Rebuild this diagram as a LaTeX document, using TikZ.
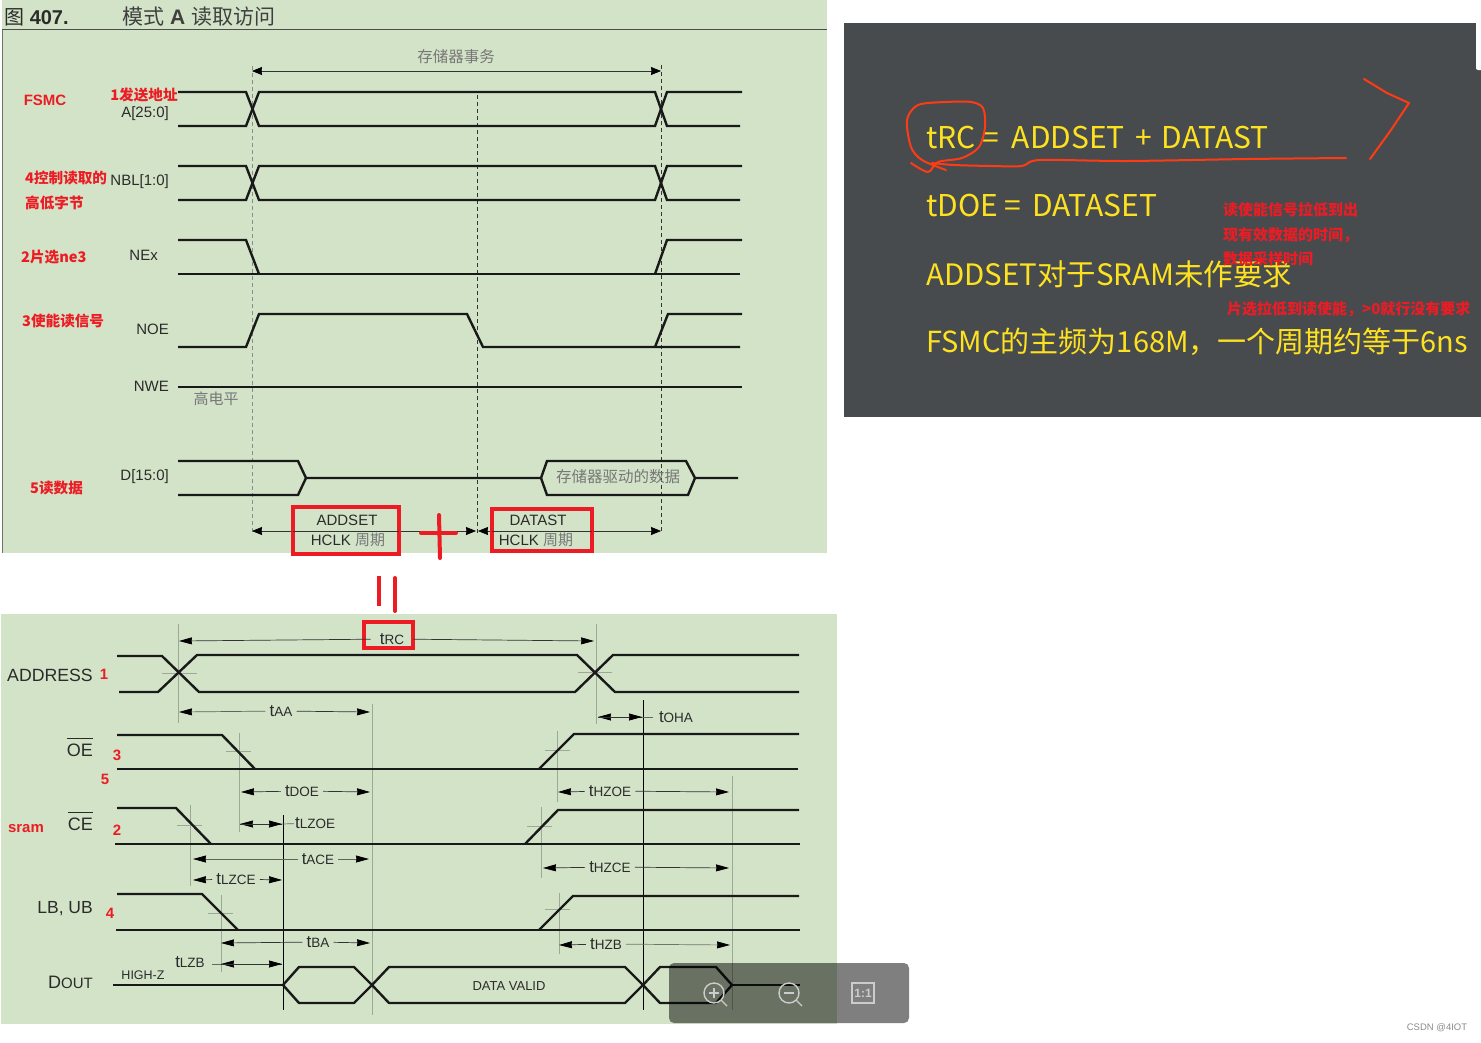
\documentclass[tikz,border=0pt]{standalone}
\usepackage{fontspec}
\setmainfont{Liberation Sans}
\newfontfamily\cjk{Noto Sans CJK SC}
\usetikzlibrary{arrows.meta}
\definecolor{panelgreen}{HTML}{D3E3C8}
\definecolor{paneldark}{HTML}{484B4E}
\definecolor{inkred}{HTML}{ED1C24}
\definecolor{penred}{HTML}{FF3B14}
\definecolor{inkyellow}{HTML}{FFE21F}
\definecolor{inktext}{HTML}{2B2B2B}
\definecolor{inkgrey}{HTML}{777777}
\definecolor{gridgrey}{HTML}{9DA997}
\newcommand{\fsz}[1]{\fontsize{#1pt}{#1pt}\selectfont}
\newcommand{\tm}[1]{{\fsz{17}t}{\fsz{13.5}#1}}
\newcommand{\ovl}[1]{$\overline{\mbox{\rule{0pt}{16pt}#1}}$}

\begin{document}
\begin{tikzpicture}[x=1pt, y=-1pt, every node/.style={inner sep=1pt, text=inktext},
    wave/.style={line width=2.4pt, black!90},
    thinwave/.style={line width=1.9pt, black!90},
    gridl/.style={line width=0.9pt, gridgrey},
    blk/.style={line width=0.9pt, black},
    vdash/.style={line width=0.9pt, black!80, dash pattern=on 4pt off 3pt},
    dimtop/.style={line width=0.7pt, black!80, {Stealth[length=10pt,width=8pt,inset=0.5pt,black]}-{Stealth[length=10pt,width=8pt,inset=0.5pt,black]}},
    dimbot/.style={line width=0.7pt, black!80, -{Stealth[length=13pt,width=7pt,inset=0.5pt,black]}},
    lab/.style={font=\fsz{15}},
    dimlab/.style={font=\fsz{14}, inner sep=4pt},
    redlab/.style={font=\cjk\bfseries\fsz{14.6}, text=inkred},
    rednum/.style={font=\bfseries\fsz{15}, text=inkred},
    redbox/.style={draw=inkred, line width=4pt},
    redbar/.style={inkred, line width=4pt},
    yellowlab/.style={font=\cjk\fsz{30}, text=inkyellow, anchor=west},
    notelab/.style={font=\cjk\bfseries\fsz{15}, text=inkred, anchor=west},
    pen/.style={penred, line width=2pt, line cap=round, line join=round},
    toolicon/.style={white!80!black, line width=1.4pt}]

    \useasboundingbox (0,0) rectangle (1481,1042);
    \fill[white] (0,0) rectangle (1481,1042);

    % panels
    \fill[panelgreen] (2,0) rectangle (827,553);
    \fill[panelgreen] (1,614) rectangle (837,1024);
    \fill[paneldark] (844,23) rectangle (1481,417);
    \fill[white, rounded corners=2pt] (1476,20) rectangle (1484,70);
    \draw[line width=1pt, black!70] (2,29.5) -- (827,29.5);
    \draw[line width=1pt, gridgrey!70!black] (2,29.5) -- (2,553);

    % title
    \node[anchor=west, font=\fsz{20}] (fig) at (3,17) {{\cjk 图} \textbf{407.}};
    \node[anchor=west, font=\fsz{21}, text=black!75] (mode) at (121,17) {{\cjk 模式} \textbf{A} {\cjk 读取访问}};

    % upper chart, vertical guides
    \coordinate (u1t) at (252,66);
    \coordinate (u1b) at (252,535);
    \coordinate (u2t) at (477,95);
    \coordinate (u2b) at (477,535);
    \coordinate (u3t) at (661,65);
    \coordinate (u3b) at (661,532);
    \draw[vdash, black!45] (u1t) -- (u1b);
    \draw[vdash] (u2t) -- (u2b);
    \draw[vdash] (u3t) -- (u3b);

    % upper chart, waves
    \draw[wave] (178,92) -- (246,92) -- (259,126) -- (655,126) -- (667,92) -- (742,92);
    \draw[wave] (178,126) -- (246,126) -- (259,92) -- (655,92) -- (667,126) -- (740,126);
    \draw[wave] (178,166) -- (246,166) -- (259,200) -- (655,200) -- (667,166) -- (742,166);
    \draw[wave] (178,200) -- (246,200) -- (259,166) -- (655,166) -- (667,200) -- (740,200);
    \draw[wave] (178,240) -- (246,240) -- (259,274);
    \draw[wave] (178,274) -- (740,274);
    \draw[wave] (655,274) -- (667,240) -- (742,240);
    \draw[wave] (178,347) -- (246,347) -- (259,314) -- (467,314) -- (483,347) -- (740,347);
    \draw[wave] (655,347) -- (668,314) -- (742,314);
    \draw[wave] (178,387) -- (742,387);
    \draw[wave] (178,461) -- (298,461) -- (306,478) -- (298,495) -- (178,495);
    \draw[wave] (306,478) -- (541,478) -- (547,461) -- (686,461) -- (695,478) -- (738,478);
    \draw[wave] (541,478) -- (547,495) -- (688,495) -- (695,478);

    % upper chart, spans
    \coordinate (topl) at (252,71);
    \coordinate (topr) at (661,71);
    \coordinate (botl) at (252,531);
    \coordinate (botm) at (476,531);
    \coordinate (botn) at (478,531);
    \coordinate (botr) at (661,531);
    \draw[dimtop] (topl) -- (topr);
    \draw[dimtop] (botl) -- (botm);
    \draw[dimtop] (botn) -- (botr);

    % upper chart, labels
    \node[font=\cjk\fsz{15.5}, text=inkgrey] (memtx) at (456,57) {存储器事务};
    \node[lab, anchor=east] (addrA) at (170,114) {A[25:0]};
    \node[lab, anchor=east] (nbl) at (170,182) {NBL[1:0]};
    \node[lab, anchor=east] (nex) at (159,255) {NEx};
    \node[lab, anchor=east] (noe) at (170,329) {NOE};
    \node[lab, anchor=east] (nwe) at (170,386) {NWE};
    \node[font=\cjk\fsz{15}, text=inkgrey] (highlvl) at (216,399) {高电平};
    \node[lab, anchor=east] (dbus) at (170,477) {D[15:0]};
    \node[font=\cjk\fsz{15.5}, text=inkgrey] (drvdata) at (618,477) {存储器驱动的数据};

    \node[redlab, font=\bfseries\fsz{15}] (fsmc) at (45,100) {FSMC};
    \node[redlab] (r1) at (144,95) {1发送地址};
    \node[redlab, anchor=west] (r4) at (24,178) {4控制读取的};
    \node[redlab, anchor=west] (r4b) at (24,203) {高低字节};
    \node[redlab, anchor=west] (r2) at (20,257) {2片选ne3};
    \node[redlab, anchor=west] (r3) at (21,321) {3使能读信号};
    \node[redlab, anchor=west] (r5) at (29,488) {5读数据};

    % sum of the two spans
    \draw[redbox, fill=panelgreen] (293,507) rectangle (399,554);
    \draw[redbox, fill=panelgreen] (492,509) rectangle (592,551);
    \draw[line width=0.7pt, black!80] (293,531) -- (399,531);
    \draw[line width=0.7pt, black!80] (492,531) -- (592,531);
    \node[lab] (addset) at (347,520) {ADDSET};
    \node[lab] (addclk) at (348,540) {HCLK {\cjk\color{inkgrey} 周期}};
    \node[lab] (datast) at (538,520) {DATAST};
    \node[lab] (datclk) at (536,540) {HCLK {\cjk\color{inkgrey} 周期}};
    \draw[redbar, line cap=round] (421,533) -- (456,533);
    \draw[redbar, line cap=round] (439,515) -- (440,558);
    \draw[redbar] (379,576) -- (379,606);
    \draw[redbar, line cap=round] (395,578) -- (395,611);

    % lower chart, guides
    \draw[gridl] (178,624) -- (178,723);
    \draw[gridl] (162,673) -- (197,673);
    \draw[gridl] (596,624) -- (596,724);
    \draw[gridl] (578,672) -- (612,672);
    \draw[gridl] (239,733) -- (239,832);
    \draw[gridl] (226,751) -- (251,751);
    \draw[gridl] (557,731) -- (557,802);
    \draw[gridl] (545,750) -- (570,750);
    \draw[gridl] (190,805) -- (190,886);
    \draw[gridl] (177,825) -- (202,825);
    \draw[gridl] (541,807) -- (541,878);
    \draw[gridl] (527,826) -- (552,826);
    \draw[gridl] (221,895) -- (221,972);
    \draw[gridl] (208,913) -- (233,913);
    \draw[gridl] (559,893) -- (559,954);
    \draw[gridl] (545,909) -- (570,909);
    \draw[gridl] (372,704) -- (372,1015);
    \draw[gridl] (732,776) -- (732,1010);
    \draw[blk] (283,815) -- (283,1010);
    \draw[blk] (643,700) -- (643,1010);

    % lower chart, waves
    \draw[wave] (117,656) -- (162,656) -- (199,692) -- (575,692) -- (613,655) -- (799,655);
    \draw[wave] (119,692) -- (158,692) -- (197,655) -- (577,655) -- (615,692) -- (799,692);
    \draw[wave] (117,735) -- (222,735) -- (255,769);
    \draw[wave] (117,769) -- (798,769);
    \draw[wave] (539,769) -- (574,734) -- (799,734);
    \draw[wave] (117,808) -- (176,808) -- (211,844);
    \draw[thinwave] (115,844) -- (800,844);
    \draw[wave] (525,844) -- (558,810) -- (799,810);
    \draw[wave] (117,894) -- (202,894) -- (238,930);
    \draw[thinwave] (116,930) -- (800,930);
    \draw[wave] (539,930) -- (573,896) -- (799,896);
    \draw[wave] (113,985) -- (283,985);
    \draw[wave] (283,985) -- (299,967) -- (354,967) -- (372,985) -- (354,1003) -- (299,1003) -- cycle;
    \draw[wave] (372,985) -- (389,967) -- (625,967) -- (643,985) -- (625,1003) -- (389,1003) -- cycle;
    \draw[wave] (643,985) -- (660,967) -- (716,967) -- (732,985) -- (716,1003) -- (660,1003) -- cycle;
    \draw[wave] (732,985) -- (800,985);

    % lower chart, spans
    \draw[redbox] (364,622) rectangle (413,648);
    \node[inner sep=9pt] (trc) at (392,639) {\tm{RC}};
    \coordinate (trcl) at (179,641);
    \coordinate (trcr) at (594,641);
    \draw[dimbot] (trc) -- (trcl);
    \draw[dimbot] (trc) -- (trcr);
    \node[dimlab] (taa) at (281,711) {\tm{AA}};
    \coordinate (taal) at (179,712);
    \coordinate (taar) at (370,712);
    \draw[dimbot, gridgrey!60!black] (taa) -- (taal);
    \draw[dimbot] (taa) -- (taar);
    \node[inner sep=1pt] (toha) at (676,717) {\tm{OHA}};
    \coordinate (tohal) at (598,717);
    \coordinate (tohar) at (642,717);
    \draw[dimbot] (tohar) -- (tohal);
    \draw[dimbot] (tohal) -- (tohar);
    \draw[line width=0.7pt, black!60] (tohar) -- (653,717);
    \node[dimlab] (tdoe) at (302,791) {\tm{DOE}};
    \coordinate (tdoel) at (241,792);
    \coordinate (tdoer) at (370,792);
    \draw[dimbot] (tdoe) -- (tdoel);
    \draw[dimbot] (tdoe) -- (tdoer);
    \node[dimlab] (thzoe) at (610,791) {\tm{HZOE}};
    \coordinate (thzoel) at (558,792);
    \coordinate (thzoer) at (729,792);
    \draw[dimbot] (thzoe) -- (thzoel);
    \draw[dimbot] (thzoe) -- (thzoer);
    \node[dimlab, anchor=west, inner sep=1pt] (tlzoe) at (294,823) {\tm{LZOE}};
    \coordinate (tlzoel) at (240,824);
    \coordinate (tlzoer) at (282,824);
    \draw[dimbot] (tlzoer) -- (tlzoel);
    \draw[dimbot] (tlzoel) -- (tlzoer);
    \draw[line width=0.7pt, black!60] (tlzoer) -- (tlzoe);
    \node[dimlab] (tace) at (318,859) {\tm{ACE}};
    \coordinate (tacel) at (193,859);
    \coordinate (tacer) at (369,859);
    \draw[dimbot, gridgrey!60!black] (tace) -- (tacel);
    \draw[dimbot, gridgrey!60!black] (tace) -- (tacer);
    \node[dimlab] (thzce) at (610,867) {\tm{HZCE}};
    \coordinate (thzcel) at (543,868);
    \coordinate (thzcer) at (729,868);
    \draw[dimbot] (thzce) -- (thzcel);
    \draw[dimbot] (thzce) -- (thzcer);
    \node[dimlab] (tlzce) at (236,879) {\tm{LZCE}};
    \coordinate (tlzcel) at (193,880);
    \coordinate (tlzcer) at (282,880);
    \draw[dimbot] (tlzce) -- (tlzcel);
    \draw[dimbot] (tlzce) -- (tlzcer);
    \node[dimlab] (tba) at (318,942) {\tm{BA}};
    \coordinate (tbal) at (221,943);
    \coordinate (tbar) at (370,943);
    \draw[dimbot] (tba) -- (tbal);
    \draw[dimbot] (tba) -- (tbar);
    \node[dimlab] (thzb) at (606,944) {\tm{HZB}};
    \coordinate (thzbl) at (559,945);
    \coordinate (thzbr) at (730,945);
    \draw[dimbot] (thzb) -- (thzbl);
    \draw[dimbot, gridgrey!70!black] (thzb) -- (thzbr);
    \node[dimlab, inner sep=1pt] (tlzb) at (190,962) {\tm{LZB}};
    \coordinate (tlzbl) at (221,964);
    \coordinate (tlzbr) at (282,964);
    \draw[dimbot] (tlzbr) -- (tlzbl);
    \draw[dimbot] (tlzbl) -- (tlzbr);
    \draw[line width=0.7pt, black!60] (212,964) -- (tlzbl);

    % lower chart, labels
    \node[font=\fsz{17.7}, anchor=west] (address) at (6,675) {ADDRESS};
    \node[font=\fsz{18}, anchor=base east] (oebar) at (94,756) {\ovl{OE}};
    \node[font=\fsz{18}, anchor=base east] (cebar) at (94,830) {\ovl{CE}};
    \node[font=\fsz{17.5}, anchor=east] (lbub) at (94,909) {LB, UB};
    \node[anchor=east] (dout) at (94,982) {{\fsz{18}D}{\fsz{15}OUT}};
    \node[font=\fsz{12.5}] (highz) at (143,975) {HIGH-Z};
    \node[font=\fsz{13}] (dvalid) at (509,986) {DATA VALID};
    \node[rednum] (n1) at (104,674) {1};
    \node[rednum] (n3) at (117,755) {3};
    \node[rednum] (n5) at (105,779) {5};
    \node[redlab, font=\bfseries\fsz{15}] (sram) at (26,829) {sram};
    \node[rednum] (n2) at (117,830) {2};
    \node[rednum] (n4) at (110,913) {4};

    % notes on the dark panel
    \node[yellowlab] (eq1) at (925,138) {tRC = \hspace{6pt}ADDSET\hspace{3.5pt} + \hspace{3.5pt}DATAST};
    \node[yellowlab] (eq2) at (925,205) {tDOE = \hspace{4pt}DATASET};
    \node[yellowlab, font=\cjk\fsz{29.5}] (eq3) at (925,274) {ADDSET对于SRAM未作要求};
    \node[yellowlab, font=\cjk\fsz{29}] (eq4) at (925,342) {FSMC的主频为168M，一个周期约等于6ns};
    \node[notelab] (note1) at (1222,210) {读使能信号拉低到出};
    \node[notelab] (note2) at (1222,235) {现有效数据的时间，};
    \node[notelab] (note3) at (1222,259) {数据采样时间};
    \node[notelab] (note4) at (1226,309) {片选拉低到读使能，>0就行没有要求};

    % pen strokes
    \draw[pen] plot[smooth] coordinates {(911,163) (928,172) (938,162) (962,158) (979,147) (985,127) (983,108) (971,102) (946,102) (918,105) (907,120) (911,147) (922,160) (946,170)};
    \draw[pen] plot[smooth] coordinates {(932,163) (954,165) (991,166) (1022,166) (1040,160) (1126,161) (1248,159) (1346,158)};
    \draw[pen] (1364,79) -- (1387,93) -- (1409,103) -- (1391,130) -- (1370,159);

    % viewer toolbar
    \fill[black, opacity=0.5, rounded corners=5pt] (669,963) rectangle (909,1023);
    \draw[toolicon] (714,993) circle (10);
    \draw[toolicon] (721,1000) -- (727,1006);
    \draw[toolicon] (709,993) -- (719,993);
    \draw[toolicon] (714,988) -- (714,998);
    \draw[toolicon] (789,993) circle (10);
    \draw[toolicon] (796,1000) -- (802,1006);
    \draw[toolicon] (784,993) -- (794,993);
    \node[draw=white!80!black, line width=1.2pt, minimum width=22pt, minimum height=20pt, inner sep=0pt, font=\bfseries\fsz{12}, text=white!80!black] (oneone) at (863,993) {1:1};

    \node[font=\fsz{9.5}, text=black!45] (mark) at (1437,1028) {CSDN @4IOT};
\end{tikzpicture}
\end{document}
